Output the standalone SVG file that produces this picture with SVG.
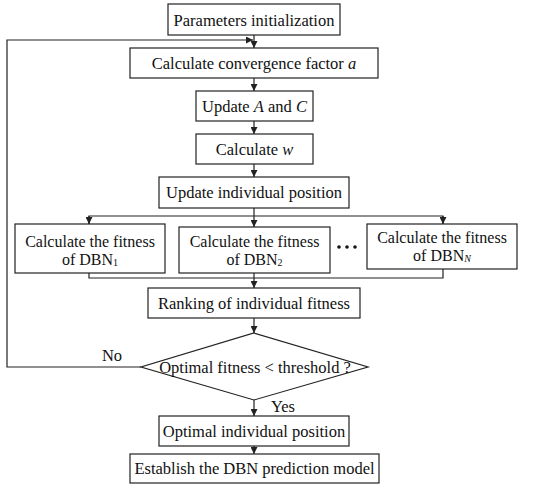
<svg xmlns="http://www.w3.org/2000/svg" width="550" height="486" viewBox="0 0 550 486">
<style>
.b{fill:#fff;stroke:#222;stroke-width:1.2}
.t{font-family:"Liberation Serif","DejaVu Serif",serif;font-size:16.5px;fill:#111;text-anchor:middle}
.t2{font-size:16px}
.c{fill:none;stroke:#222;stroke-width:1.2}
.s{font-size:10px}
</style>
<defs>
<marker id="a" viewBox="0 0 10 10" refX="10" refY="5" markerWidth="7" markerHeight="7" markerUnits="userSpaceOnUse" orient="auto">
<path d="M0,0L10,5L0,10z" fill="#222"/>
</marker>
</defs>
<rect width="550" height="486" fill="#fff"/>
<g id="connectors">
<line class="c" x1="254" y1="35" x2="254" y2="48" marker-end="url(#a)"/>
<polyline class="c" points="141,367 7,367 7,40 253,40" marker-end="url(#a)"/>
<line class="c" x1="254" y1="78" x2="254" y2="91" marker-end="url(#a)"/>
<line class="c" x1="254" y1="121" x2="254" y2="134" marker-end="url(#a)"/>
<line class="c" x1="254" y1="164" x2="254" y2="177" marker-end="url(#a)"/>
<line class="c" x1="254" y1="208" x2="254" y2="227" marker-end="url(#a)"/>
<polyline class="c" points="89,224 89,216 443,216 443,224"/>
<line class="c" x1="89" y1="216" x2="89" y2="224" marker-end="url(#a)"/>
<line class="c" x1="443" y1="216" x2="443" y2="224" marker-end="url(#a)"/>
<polyline class="c" points="89,273 89,278 443,278 443,269"/>
<line class="c" x1="254" y1="273" x2="254" y2="288" marker-end="url(#a)"/>
<line class="c" x1="254" y1="318" x2="254" y2="333" marker-end="url(#a)"/>
<line class="c" x1="254" y1="400" x2="254" y2="416" marker-end="url(#a)"/>
<line class="c" x1="254" y1="446" x2="254" y2="454" marker-end="url(#a)"/>
<text class="t" x="112" y="361">No</text>
<text class="t" x="283" y="412">Yes</text>
</g>
<g id="n1"><rect class="b" x="168" y="4" width="172" height="31"/><text class="t" x="254" y="25.5">Parameters initialization</text></g>
<g id="n2"><rect class="b" x="130" y="48" width="248" height="30"/><text class="t" x="254" y="68.5">Calculate convergence factor <tspan font-style="italic">a</tspan></text></g>
<g id="n3"><rect class="b" x="196" y="91" width="117" height="30"/><text class="t" x="254.5" y="111.5">Update <tspan font-style="italic">A</tspan> and <tspan font-style="italic">C</tspan></text></g>
<g id="n4"><rect class="b" x="196" y="134" width="117" height="30"/><text class="t" x="254.5" y="154.5">Calculate <tspan font-style="italic">w</tspan></text></g>
<g id="n5"><rect class="b" x="159" y="177" width="190" height="31"/><text class="t" x="254" y="198">Update individual position</text></g>
<g id="n6"><rect class="b" x="15" y="224" width="150" height="49"/><text class="t t2" x="90" y="246.5">Calculate the fitness</text><text class="t t2" x="90" y="264.5">of DBN<tspan class="s" dy="1">1</tspan></text></g>
<g id="n7"><rect class="b" x="179" y="227" width="151" height="46"/><text class="t t2" x="254.5" y="246.5">Calculate the fitness</text><text class="t t2" x="254.5" y="264.5">of DBN<tspan class="s" dy="1">2</tspan></text></g>
<g id="dots"><circle cx="339" cy="247" r="1.8" fill="#111"/><circle cx="347" cy="247" r="1.8" fill="#111"/><circle cx="355" cy="247" r="1.8" fill="#111"/></g>
<g id="n8"><rect class="b" x="367" y="224" width="150" height="45"/><text class="t t2" x="442" y="242.5">Calculate the fitness</text><text class="t t2" x="442" y="260.5">of DBN<tspan class="s" font-style="italic" dy="1">N</tspan></text></g>
<g id="n9"><rect class="b" x="148" y="288" width="212" height="30"/><text class="t" x="254" y="308.5">Ranking of individual fitness</text></g>
<g id="n10"><polygon class="b" points="254,333 368,367 254,400 141,367"/><text class="t" x="255" y="372.5">Optimal fitness &lt; threshold ?</text></g>
<g id="n11"><rect class="b" x="159" y="416" width="190" height="30"/><text class="t" x="254" y="436.5">Optimal individual position</text></g>
<g id="n12"><rect class="b" x="130" y="454" width="249" height="29"/><text class="t" x="254.5" y="474">Establish the DBN prediction model</text></g>
</svg>
